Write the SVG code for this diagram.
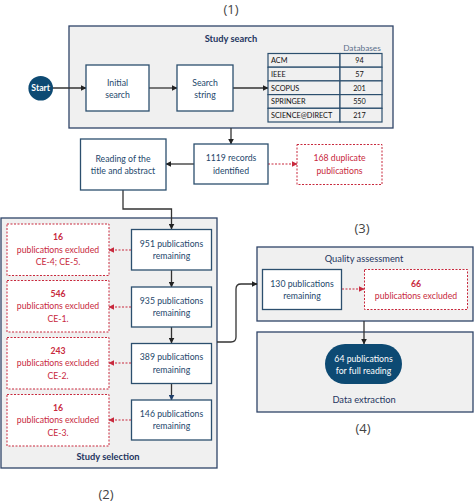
<svg xmlns="http://www.w3.org/2000/svg" width="474" height="503" viewBox="0 0 474 503">
<style>
text{font-family:Lato,"Open Sans","Liberation Sans",sans-serif;}
.grp{fill:#f0f0f0;stroke:#2f4468;stroke-width:1.3;}
.box{fill:#ffffff;stroke:#2c4f6e;stroke-width:1.3;}
.rbox{fill:#ffffff;stroke:#c8293d;stroke-width:1;stroke-dasharray:2,1.5;}
.t{font-size:8.7px;fill:#24476b;text-anchor:middle;}
.ttl{font-size:9.3px;fill:#1f3560;text-anchor:middle;}
.b{font-weight:bold;}
.r{font-size:8.7px;fill:#c8293d;text-anchor:middle;}
.w{font-size:8.7px;fill:#ffffff;text-anchor:middle;}
.lbl{font-size:13px;fill:#444444;text-anchor:middle;font-family:"Open Sans","Liberation Sans",sans-serif;}
.tb{font-size:7.3px;fill:#111111;}
.con{fill:none;stroke:#333333;stroke-width:1.3;}
.dcon{fill:none;stroke:#c8293d;stroke-width:1.2;stroke-dasharray:2,1.5;}
.cell{fill:#f0f0f0;stroke:#2c4f6e;stroke-width:1.2;}
</style>
<defs>
<marker id="ah" viewBox="0 0 10 10" refX="9" refY="5" markerWidth="6" markerHeight="6" orient="auto" markerUnits="userSpaceOnUse"><path d="M0,0 L10,5 L0,10 z" fill="#222222"/></marker>
<marker id="ahb" viewBox="0 0 10 10" refX="9" refY="5" markerWidth="6" markerHeight="6" orient="auto" markerUnits="userSpaceOnUse"><path d="M0,0 L10,5 L0,10 z" fill="#1f3f6b"/></marker>
<marker id="ahr" viewBox="0 0 10 10" refX="9" refY="5" markerWidth="6" markerHeight="6" orient="auto" markerUnits="userSpaceOnUse"><path d="M0,0 L10,5 L0,10 z" fill="#c8293d"/></marker>
</defs>

<rect width="474" height="503" fill="#ffffff"/>

<g id="section-labels">
<text class="lbl" x="231" y="14">(1)</text>
<text class="lbl" x="106" y="499">(2)</text>
<text class="lbl" x="362" y="233">(3)</text>
<text class="lbl" x="363" y="433">(4)</text>
</g>

<g id="study-search">
<rect class="grp" x="69" y="26" width="324" height="102"/>
<text class="ttl b" x="231" y="42">Study search</text>
</g>

<g id="study-selection">
<rect class="grp" x="1" y="218" width="216" height="250"/>
<text class="ttl b" x="108" y="460">Study selection</text>
</g>

<g id="quality-assessment">
<rect class="grp" x="257" y="247" width="216" height="74"/>
<text class="ttl" x="364" y="262">Quality assessment</text>
</g>

<g id="data-extraction">
<rect class="grp" x="257" y="332" width="216" height="80"/>
<text class="ttl" x="364" y="403">Data extraction</text>
</g>

<g id="connectors">
<line class="con" x1="53" y1="88" x2="86" y2="88" marker-end="url(#ah)"/>
<line class="con" x1="149" y1="88" x2="177" y2="88" marker-end="url(#ah)"/>
<line class="con" x1="233" y1="88" x2="268" y2="88" marker-end="url(#ah)"/>
<line class="con" x1="231" y1="128" x2="231" y2="144" marker-end="url(#ah)"/>
<line class="con" x1="194" y1="164" x2="166" y2="164" marker-end="url(#ah)"/>
<line class="dcon" x1="268" y1="164" x2="297" y2="164" marker-end="url(#ahr)"/>
<path class="con" d="M123,190 V209 H171.5 V229" marker-end="url(#ah)"/>
<line class="con" x1="171.5" y1="270" x2="171.5" y2="287" marker-end="url(#ah)"/>
<line class="con" x1="171.5" y1="327" x2="171.5" y2="343" marker-end="url(#ah)"/>
<line class="con" x1="171.5" y1="383" x2="171.5" y2="400" stroke="#1f3f6b" marker-end="url(#ahb)"/>
<line class="dcon" x1="131" y1="250" x2="109" y2="250" marker-end="url(#ahr)"/>
<line class="dcon" x1="131" y1="307" x2="109" y2="307" marker-end="url(#ahr)"/>
<line class="dcon" x1="131" y1="363" x2="109" y2="363" marker-end="url(#ahr)"/>
<line class="dcon" x1="131" y1="420" x2="109" y2="420" marker-end="url(#ahr)"/>
<path class="con" d="M217,342 H231 Q236,342 236,337 V289 Q236,284 241,284 H257" marker-end="url(#ah)"/>
<line class="dcon" x1="342" y1="289" x2="364" y2="289" marker-end="url(#ahr)"/>
<line class="con" x1="364" y1="321" x2="364" y2="344" marker-end="url(#ah)"/>
</g>

<g id="start">
<circle cx="40.7" cy="88.3" r="12.3" fill="#0d4a73"/>
<text class="w b" x="40.7" y="91.3" font-size="8.5">Start</text>
</g>

<g id="initial-search">
<rect class="box" x="86" y="65" width="63" height="46"/>
<text class="t" x="117.5" y="86">Initial</text>
<text class="t" x="117.5" y="97.5">search</text>
</g>

<g id="search-string">
<rect class="box" x="177" y="65" width="56" height="46"/>
<text class="t" x="205" y="86">Search</text>
<text class="t" x="205" y="97.5">string</text>
</g>

<g id="databases">
<text x="362" y="51" font-size="8.3" fill="#5a6f8a" text-anchor="middle" font-family="Lato,'Open Sans','Liberation Sans',sans-serif">Databases</text>
<rect class="cell" x="268" y="53.5" width="72" height="13.7"/>
<rect class="cell" x="340" y="53.5" width="42" height="13.7"/>
<rect class="cell" x="268" y="67.2" width="72" height="13.7"/>
<rect class="cell" x="340" y="67.2" width="42" height="13.7"/>
<rect class="cell" x="268" y="80.9" width="72" height="13.7"/>
<rect class="cell" x="340" y="80.9" width="42" height="13.7"/>
<rect class="cell" x="268" y="94.6" width="72" height="13.7"/>
<rect class="cell" x="340" y="94.6" width="42" height="13.7"/>
<rect class="cell" x="268" y="108.3" width="72" height="13.7"/>
<rect class="cell" x="340" y="108.3" width="42" height="13.7"/>
<text class="tb" x="271" y="63.2">ACM</text>
<text class="tb" x="271" y="76.9">IEEE</text>
<text class="tb" x="271" y="90.6">SCOPUS</text>
<text class="tb" x="271" y="104.3">SPRINGER</text>
<text class="tb" x="271" y="118">SCIENCE@DIRECT</text>
<text class="tb" x="359.5" y="63.2" text-anchor="middle">94</text>
<text class="tb" x="359.5" y="76.9" text-anchor="middle">57</text>
<text class="tb" x="359.5" y="90.6" text-anchor="middle">201</text>
<text class="tb" x="359.5" y="104.3" text-anchor="middle">550</text>
<text class="tb" x="359.5" y="118" text-anchor="middle">217</text>
</g>

<g id="records-identified">
<rect class="box" x="194" y="144" width="74" height="40"/>
<text class="t" x="231" y="161">1119 records</text>
<text class="t" x="231" y="173.5">identified</text>
</g>

<g id="duplicates">
<rect class="rbox" x="297" y="144.5" width="85" height="40"/>
<text class="r" x="339.5" y="161">168 duplicate</text>
<text class="r" x="339.5" y="173.5">publications</text>
</g>

<g id="reading">
<rect class="box" x="80.5" y="139" width="85.5" height="51"/>
<text class="t" x="123" y="161.5">Reading of the</text>
<text class="t" x="123" y="174">title and abstract</text>
</g>

<g id="rem-951">
<rect class="box" x="131.5" y="229.5" width="80" height="40.5"/>
<text class="t" x="171.5" y="246.5">951 publications</text>
<text class="t" x="171.5" y="259">remaining</text>
</g>
<g id="rem-935">
<rect class="box" x="131.5" y="287" width="80" height="40"/>
<text class="t" x="171.5" y="303.5">935 publications</text>
<text class="t" x="171.5" y="316">remaining</text>
</g>
<g id="rem-389">
<rect class="box" x="131.5" y="343.5" width="80" height="40"/>
<text class="t" x="171.5" y="360">389 publications</text>
<text class="t" x="171.5" y="372.5">remaining</text>
</g>
<g id="rem-146">
<rect class="box" x="131.5" y="400" width="80" height="40"/>
<text class="t" x="171.5" y="416.5">146 publications</text>
<text class="t" x="171.5" y="429">remaining</text>
</g>

<g id="excl-16a">
<rect class="rbox" x="7" y="224" width="102" height="51.5"/>
<text class="r b" x="58" y="240">16</text>
<text class="r" x="58" y="252.5">publications excluded</text>
<text class="r" x="58" y="265">CE-4; CE-5.</text>
</g>
<g id="excl-546">
<rect class="rbox" x="7" y="280.5" width="102" height="51.5"/>
<text class="r b" x="58" y="296.5">546</text>
<text class="r" x="58" y="309">publications excluded</text>
<text class="r" x="58" y="321.5">CE-1.</text>
</g>
<g id="excl-243">
<rect class="rbox" x="7" y="337.5" width="102" height="51.5"/>
<text class="r b" x="58" y="353.5">243</text>
<text class="r" x="58" y="366">publications excluded</text>
<text class="r" x="58" y="378.5">CE-2.</text>
</g>
<g id="excl-16b">
<rect class="rbox" x="7" y="394.5" width="102" height="51.5"/>
<text class="r b" x="58" y="410.5">16</text>
<text class="r" x="58" y="423">publications excluded</text>
<text class="r" x="58" y="435.5">CE-3.</text>
</g>

<g id="rem-130">
<rect class="box" x="262.5" y="269.5" width="79" height="40"/>
<text class="t" x="302" y="286.5">130 publications</text>
<text class="t" x="302" y="299">remaining</text>
</g>
<g id="excl-66">
<rect class="rbox" x="364.5" y="269.5" width="103" height="40"/>
<text class="r b" x="416" y="286.5">66</text>
<text class="r" x="416" y="299">publications excluded</text>
</g>

<g id="full-reading">
<rect x="325" y="344" width="77" height="40" rx="20" ry="20" fill="#0d4a73"/>
<text class="w" x="363.5" y="361.5">64 publications</text>
<text class="w" x="363.5" y="373.5">for full reading</text>
</g>
</svg>
